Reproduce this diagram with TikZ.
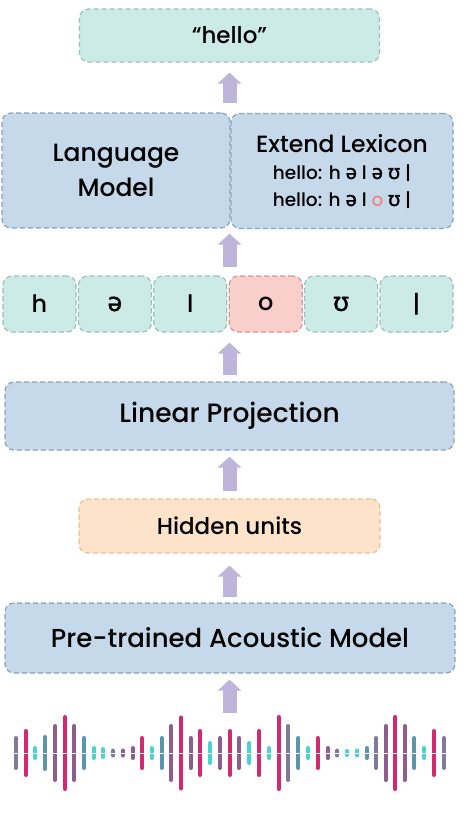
\documentclass[tikz,border=0pt]{standalone}
\usepackage{fontspec}
\setmainfont{Poppins}[UprightFont=* Medium]
\newfontfamily\ipa{Noto Sans}[Scale=1.1, FakeBold=1.2]
\usetikzlibrary{arrows.meta}

\definecolor{blufill}{HTML}{C5D9EA}
\definecolor{bluline}{HTML}{8AA3B8}
\definecolor{tealfill}{HTML}{CDEBE6}
\definecolor{tealline}{HTML}{98C3BB}
\definecolor{redfill}{HTML}{F8CFCB}
\definecolor{redline}{HTML}{D8968F}
\definecolor{orgfill}{HTML}{FDE3C9}
\definecolor{orgline}{HTML}{E6C198}
\definecolor{arrowcol}{HTML}{BDB6DA}
\definecolor{wpink}{HTML}{D4286F}
\definecolor{wpurple}{HTML}{8D5E8E}
\definecolor{wsteel}{HTML}{5E95AE}
\definecolor{wcyan}{HTML}{4BD3CF}
\definecolor{wgrey}{HTML}{807A9A}
\definecolor{hired}{HTML}{E98A8A}

\tikzset{
  box/.style={draw, dashed, dash pattern=on 5pt off 3pt, line width=1.2pt,
    rounded corners=9pt, inner sep=0pt, align=center, text=black},
  blubox/.style={box, fill=blufill, draw=bluline},
  tealbox/.style={box, fill=tealfill, draw=tealline},
  redbox/.style={box, fill=redfill, draw=redline},
  orgbox/.style={box, fill=orgfill, draw=orgline},
  phone/.style={minimum width=73pt, minimum height=56pt, font=\fontsize{24}{28}\selectfont},
  uparrow/.style={draw=arrowcol, line width=14pt,
    -{Triangle[length=11pt,width=23pt]}},
  bar/.style={line width=4pt, line cap=round},
}

\begin{document}
\begin{tikzpicture}[x=1pt,y=-1pt]
\useasboundingbox (0,0) rectangle (474,829);

\node[tealbox, minimum width=300pt, minimum height=53pt, font=\fontsize{23}{26}\selectfont] (word) at (229.5,35.5) {“hello”};

\node[blubox, minimum width=228pt, minimum height=115pt, font=\fontsize{25}{35}\selectfont] (lm) at (116,170.5) {Language\\Model};
\node[blubox, minimum width=222pt, minimum height=115pt, font=\fontsize{18.5}{27}\selectfont] (lex) at (342,171)
  {{\fontsize{23.5}{27}\selectfont Extend Lexicon}\\hello: h {\ipa ə} l {\ipa ə} {\ipa ʊ} |\\hello: h {\ipa ə} l \textcolor{hired}{o} {\ipa ʊ} |};

\node[tealbox, phone] (p1) at (39.5,304) {h};
\node[tealbox, phone] (p2) at (114.9,304) {\ipa ə};
\node[tealbox, phone] (p3) at (190.3,304) {l};
\node[redbox, phone] (p4) at (265.7,304) {o};
\node[tealbox, phone] (p5) at (341.1,304) {\ipa ʊ};
\node[tealbox, phone] (p6) at (416.5,304) {|};

\node[blubox, minimum width=449pt, minimum height=68pt, font=\fontsize{26.5}{30}\selectfont] (proj) at (229.5,416) {Linear Projection};

\node[orgbox, minimum width=301pt, minimum height=54pt, font=\fontsize{23}{26}\selectfont] (hidden) at (229.5,526) {Hidden units};

\node[blubox, minimum width=450pt, minimum height=70pt, font=\fontsize{26}{30}\selectfont] (acoustic) at (230,638) {Pre-trained Acoustic Model};

\coordinate (wave) at (229.5,713);

\draw[uparrow] ([yshift=9pt]lm.north -| word.south) -- ([yshift=-10pt]word.south);
\draw[uparrow] ([yshift=8pt]p4.north -| word.south) -- ([yshift=-5pt]lm.south -| word.south);
\draw[uparrow] ([yshift=6pt]proj.north) -- ([yshift=-10pt]p4.south -| proj.north);
\draw[uparrow] ([yshift=7pt]hidden.north) -- ([yshift=-6pt]proj.south);
\draw[uparrow] ([yshift=5pt]acoustic.north -| hidden.north) -- ([yshift=-12pt]hidden.south);
\draw[uparrow] (wave) -- ([yshift=-6pt]acoustic.south -| wave);

\foreach \x/\h/\c in {15.7/15/wgrey, 25.7/22/wpink, 35/5/wcyan, 45/16/wsteel, 55/27/wpurple,
  65/36/wpink, 74.3/27/wpurple, 84.3/15/wsteel, 94/5/wcyan, 103.3/4/wcyan, 113.3/2.5/wgrey,
  122.7/2.5/wpurple, 132.7/5/wpurple, 142.3/15/wpink, 151.7/5/wcyan, 161.7/15/wsteel,
  171/27/wpurple, 181/35.5/wpink, 190.7/15/wpurple, 200/22/wpink, 210/10/wcyan,
  220/15/wpurple, 230/22/wpink, 239.3/15/wpurple, 249.3/10/wcyan, 259.3/22/wpink,
  269.3/5/wcyan, 278.7/36/wpink, 288.3/27/wgrey, 298.3/15/wsteel, 308.3/5/wcyan,
  317.7/15/wpink, 327.7/5/wpurple, 337.3/2.5/wgrey, 347.3/2/wcyan, 357.3/2.5/wcyan,
  366.7/5/wsteel, 376/15/wgrey, 385.7/27/wpurple, 395.3/36/wpink, 404.7/27/wpurple,
  414.3/15/wsteel, 424/5/wcyan, 434/22/wpink, 444/15/wgrey}
  \draw[bar, \c] (\x,753-\h) -- (\x,753+\h);
\draw[white, line width=0.8pt] (12,753) -- (448,753);

\end{tikzpicture}
\end{document}
